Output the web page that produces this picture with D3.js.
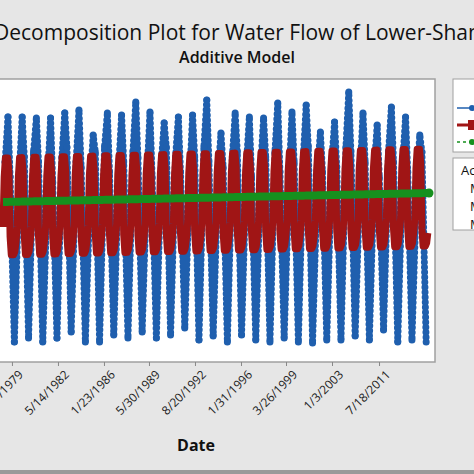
<!DOCTYPE html>
<html><head><meta charset="utf-8">
<script src="https://cdn.jsdelivr.net/npm/d3@7"></script>
<style>body{margin:0;background:#e6e6e6;}svg{display:block;}</style>
</head><body>
<svg id="c" width="474" height="474"></svg>
<script>
// yearly cycles of the original series (peak and trough of each year)
const cyclePeaks = [245,245,244,244,249,252,227,249,247,260,250,239,245,247,262,229,249,245,244,259,250,257,230,240,270,249,237,255,245,227];
const cycleTroughs = [20,24,20,24,30,20,20,27,24,30,24,27,34,22,26,20,27,22,20,24,20,19,22,22,26,22,32,20,22,20];
const cycleMids = [200,190,210,185,205,200,180,215,195,210,190,200,205,185,215,190,205,200,195,210,185,205,190,200,215,190,195,210,200,185];
// seasonal component for one year (12 months)
const seasonal = [-25,25,44,44,44,30,-35,-53,-53,-53,-50,-40];
// trend at start and end
const trendEnds = [160,169];
const tickIdx = [0.63,3.87,7.11,10.28,13.52,16.76,19.93,23.17,26.48];
const tickLabels = ["10/1/1979","5/14/1982","1/23/1986","5/30/1989","8/20/1992","1/31/1996","3/26/1999","1/3/2003","7/18/2011"];

const svg = d3.select("#c");
const L=-2,R=435,T=79,B=362;
const x = d3.scaleLinear().domain([0,30]).range([3,429]);
const y = d3.scaleLinear().domain([0,283]).range([B,T]);
const F="Open Sans";

svg.append("rect").attr("x",0).attr("y",470).attr("width",474).attr("height",4).attr("fill","#9a9a9a");
svg.append("rect").attr("x",L).attr("y",T).attr("width",R-L).attr("height",B-T).attr("fill","#fff").attr("stroke","#a0a0a0").attr("stroke-width",1.5);

const n = cyclePeaks.length;
const blue = [];
cyclePeaks.forEach((p,i)=>{blue.push([i+0.15,cycleMids[i]]);blue.push([i+0.35,p]);blue.push([i+0.5,cycleMids[(i+3)%n]]);blue.push([i+0.8,cycleTroughs[i]]);});
const trend = d3.scaleLinear().domain([0,n]).range(trendEnds);
const red = [], green=[];
for(let i=0;i<n;i++) seasonal.forEach((s,m)=>{const t=i+m/12; red.push([t,trend(t)+s]); green.push([t,trend(t)]);});

const line = d3.line().x(d=>x(d[0])).y(d=>y(d[1]));
const g = svg.append("g");
g.append("path").attr("d",line(blue)).attr("fill","none").attr("stroke","#1f5fae").attr("stroke-width",2).attr("stroke-linejoin","round");
g.append("path").attr("d",line(blue)).attr("fill","none").attr("stroke","#1f5fae").attr("stroke-width",7).attr("stroke-linecap","round").attr("stroke-dasharray","0,5");
g.selectAll(".bd").data(blue).join("circle").attr("cx",d=>x(d[0])).attr("cy",d=>y(d[1])).attr("r",3.5).attr("fill","#1f5fae");
g.append("path").attr("d",line(red)).attr("fill","none").attr("stroke","#a01515").attr("stroke-width",7).attr("stroke-linejoin","round");
g.append("path").attr("d",line(green)).attr("fill","none").attr("stroke","#16901e").attr("stroke-width",8);
g.append("circle").attr("cx",x(n)).attr("cy",y(trendEnds[1])).attr("r",4.5).attr("fill","#16901e");

const ax = svg.append("g").attr("transform",`translate(0,${B})`)
  .call(d3.axisBottom(x).tickValues(tickIdx).tickFormat((d,i)=>tickLabels[i]).tickSize(4));
ax.select(".domain").remove();
ax.selectAll("line").attr("stroke","#888");
ax.selectAll("text").attr("font-family",F).attr("font-size",12).attr("fill","#222")
  .attr("text-anchor","end").attr("transform","translate(4,6) rotate(-45)").attr("dy","0.3em");

svg.append("text").attr("x",-6).attr("y",40).attr("font-family",F).attr("font-weight",500).attr("font-size",21).attr("fill","#111")
  .text("Decomposition Plot for Water Flow of Lower-Shangyang");
svg.append("text").attr("x",237).attr("y",63).attr("text-anchor","middle").attr("font-family",F).attr("font-weight",600).attr("font-size",16).attr("fill","#111").text("Additive Model");
svg.append("text").attr("x",196).attr("y",451).attr("text-anchor","middle").attr("font-family",F).attr("font-weight","bold").attr("font-size",16).attr("fill","#111").text("Date");

// legend
svg.append("rect").attr("x",453).attr("y",79).attr("width",30).attr("height",73).attr("fill","#fff").attr("stroke","#a0a0a0");
const lg=[["#1f5fae",108,null,"c"],["#a01515",125,null,"sq"],["#16901e",142,"3,3","c"]];
lg.forEach(([c,yy,da,t])=>{
  svg.append("line").attr("x1",457).attr("x2",480).attr("y1",yy).attr("y2",yy).attr("stroke",c).attr("stroke-width",t==="sq"?3:1.5).attr("stroke-dasharray",da);
  if(t==="sq") svg.append("rect").attr("x",468).attr("y",yy-5).attr("width",8).attr("height",10).attr("fill",c);
  else svg.append("circle").attr("cx",472).attr("cy",yy).attr("r",3).attr("fill",c);
});
svg.append("rect").attr("x",453).attr("y",158).attr("width",30).attr("height",72).attr("fill","#fff").attr("stroke","#a0a0a0");
svg.append("text").attr("x",461).attr("y",175).attr("font-family",F).attr("font-size",13).attr("fill","#111").text("Accuracy Measures");
["MAPE","MAD","MSD"].forEach((t,i)=>svg.append("text").attr("x",470).attr("y",193+i*18).attr("font-family",F).attr("font-size",13).attr("fill","#111").text(t));
</script></body></html>
